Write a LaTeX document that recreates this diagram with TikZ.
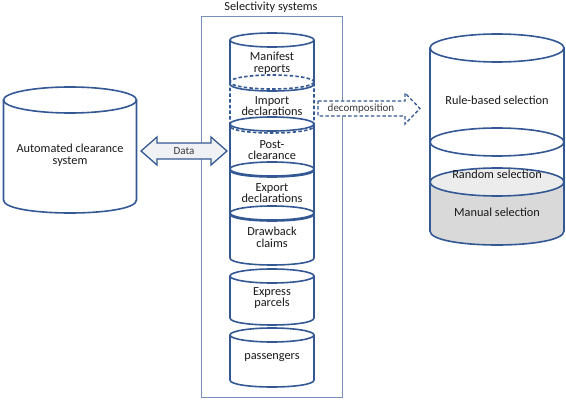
\documentclass[tikz,border=0pt]{standalone}
\usepackage{fontspec}
\setmainfont{Carlito}
\definecolor{cylblue}{RGB}{52,88,148}
\definecolor{boxblue}{RGB}{120,145,186}
\definecolor{txt}{RGB}{25,25,25}
\definecolor{grayA}{RGB}{236,236,236}
\definecolor{grayB}{RGB}{217,217,217}
\definecolor{arrfill}{RGB}{240,241,244}
% cx, ytop, ybot, rx, ry, fill
\newcommand{\cylfill}[6]{%
  \path[fill=#6] ({#1-#4},#2) -- ({#1-#4},#3) .. controls ({#1-#4},{#3+1.3333*#5}) and ({#1+#4},{#3+1.3333*#5}) .. ({#1+#4},#3) -- ({#1+#4},#2) -- cycle;
  \path[fill=#6] (#1,#2) ellipse [x radius=#4, y radius=#5];
}
% cx, ytop, ybot, rx, ry, extra style
\newcommand{\cyllines}[6]{%
  \draw[cylline,#6] ({#1-#4},#2) -- ({#1-#4},#3) .. controls ({#1-#4},{#3+1.3333*#5}) and ({#1+#4},{#3+1.3333*#5}) .. ({#1+#4},#3) -- ({#1+#4},#2);
  \draw[cylline,#6] (#1,#2) ellipse [x radius=#4, y radius=#5];
}
\begin{document}
\begin{tikzpicture}[x=1pt,y=-1pt,
  cylline/.style={draw=cylblue,line width=1.6pt},
  dsh/.style={dash pattern=on 3.5pt off 2.2pt},
  lbl/.style={font=\fontsize{12.3}{11.6}\selectfont, text=txt, align=center, inner sep=0pt},
  small/.style={font=\fontsize{11}{12}\selectfont, text=txt!85, inner sep=0pt},
  blockarrow/.style={draw=cylblue, line width=1.3pt, line join=miter}]
\useasboundingbox (0,0) rectangle (566,401);

% outer box
\node[lbl] (title) at (271,7) {Selectivity systems};
\draw[boxblue, line width=1pt] (201,17) rectangle (342,398);

% left cylinder
\cylfill{70}{100}{200}{66.5}{13}{white}
\cyllines{70}{100}{200}{66.5}{13}{}
\node[lbl] (acs) at (70,155) {Automated clearance\\system};

% stack fills
\cylfill{272}{335}{380}{42}{7}{white}
\cylfill{272}{276}{318}{42}{7}{white}
\cylfill{272}{213}{258}{42}{7}{white}
\cylfill{272}{169}{214}{42}{7}{white}
\cylfill{272}{124}{170}{42}{7}{white}
\cylfill{272}{82}{126}{42}{7}{white}
\cylfill{272}{40}{84}{42}{7}{white}
% stack lines
\cyllines{272}{335}{380}{42}{7}{}
\cyllines{272}{276}{318}{42}{7}{}
\cyllines{272}{213}{258}{42}{7}{}
\cyllines{272}{169}{214}{42}{7}{}
\cyllines{272}{124}{170}{42}{7}{}
\cyllines{272}{82}{126}{42}{7}{dsh}
\cyllines{272}{40}{84}{42}{7}{}

\node[lbl] (manifest) at (272,63) {Manifest\\reports};
\node[lbl] (import) at (272,106) {Import\\declarations};
\node[lbl] (post) at (272,150) {Post-\\clearance};
\node[lbl] (export) at (272,193) {Export\\declarations};
\node[lbl] (drawback) at (272,237) {Drawback\\claims};
\node[lbl] (express) at (272,298) {Express\\parcels};
\node[lbl] (pass) at (272,358) {passengers};

% right cylinder
\cylfill{497}{48}{231}{67}{14}{white}
\cylfill{497}{182}{231}{67}{14}{grayB}
\path[fill=grayA] (497,182) ellipse [x radius=67, y radius=14];
\draw[cylline] (497,182) ellipse [x radius=67, y radius=14];
\draw[cylline] (497,142) ellipse [x radius=67, y radius=14];
\cyllines{497}{48}{231}{67}{14}{}
\node[lbl] (rule) at (497,100) {Rule-based selection};
\node[lbl] (random) at (497,174) {Random selection};
\node[lbl] (manual) at (497,212) {Manual selection};

% Data double arrow
\coordinate (dL) at (141,151);
\coordinate (dR) at (227,151);
\draw[blockarrow, fill=arrfill] (dL) -- ++(16,-14) -- ++(0,6) -- ++(54,0) -- ++(0,-6) -- (dR) -- ++(-16,14) -- ++(0,-6) -- ++(-54,0) -- ++(0,6) -- cycle;
\node[small] (data) at (184,151) {Data};

% decomposition arrow
\coordinate (cL) at (318,108.5);
\coordinate (cR) at (420,108.5);
\draw[blockarrow, dsh, fill=white] (cL) ++(0,-7.5) -- ++(87,0) -- ++(0,-8) -- (cR) -- ++(-15,15.5) -- ++(0,-8) -- ++(-87,0) -- cycle;
\node[small] (decomp) at (361,108.5) {decomposition};
\end{tikzpicture}
\end{document}
